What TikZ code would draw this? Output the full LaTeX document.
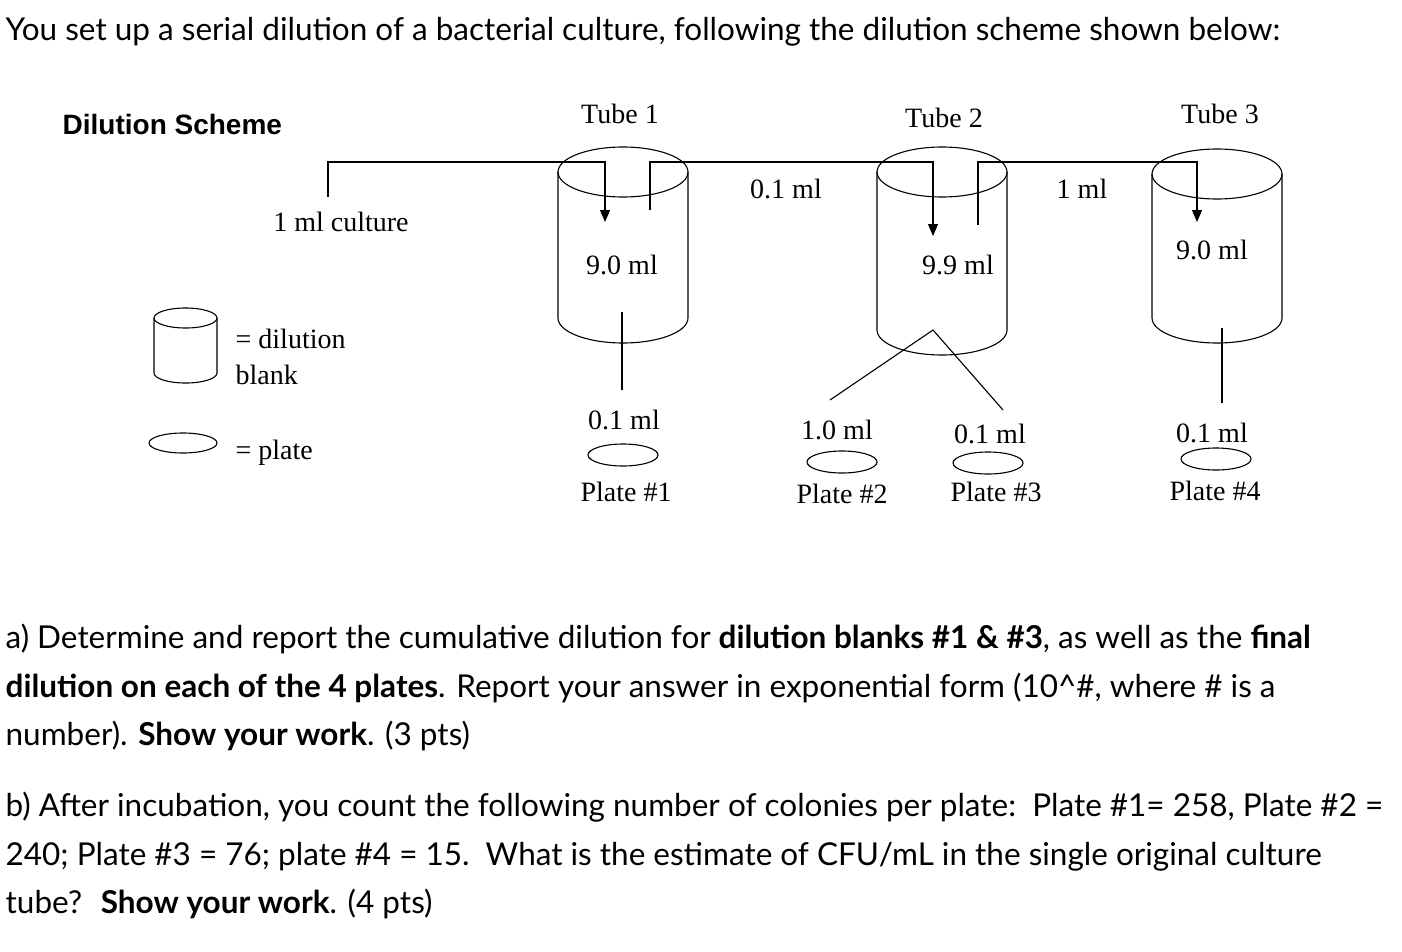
\documentclass[tikz,border=0pt]{standalone}
\usepackage{fontspec}
\setmainfont{Lato}
\newfontfamily\tnr{Liberation Serif}
\newfontfamily\ari{Liberation Sans}
\usetikzlibrary{arrows.meta}
\begin{document}
\begin{tikzpicture}[x=1pt,y=-1pt,line width=1.3pt,
  lbl/.style={font=\tnr\fontsize{28}{32}\selectfont,inner sep=0pt},
  txt/.style={font=\fontsize{31.5}{36}\selectfont,anchor=base west,inner sep=0pt},
  flow/.style={-{Triangle[length=12pt,width=10pt]}},
  thin/.style={line width=1.1pt}]
\useasboundingbox (0,0) rectangle (1402,952);
\fill[white] (0,0) rectangle (1402,952);
% header text
\node[txt] (q) at (5,41) {You set up a serial dilution of a bacterial culture, following the dilution scheme shown below:};
\node[font=\ari\bfseries\fontsize{28}{32}\selectfont,anchor=west,inner sep=0pt] (ds) at (62,124) {Dilution Scheme};
% tubes
\newcommand{\tubeshape}[4]{% cx, top, bottom, rx
  \draw[thin] (#1-#4,#2) arc[start angle=180,end angle=540,x radius=#4,y radius=25];
  \draw[thin] (#1-#4,#2) -- (#1-#4,#3) arc[start angle=180,end angle=0,x radius=#4,y radius=25] -- (#1+#4,#2);}
\tubeshape{623}{172}{318}{65}
\tubeshape{942}{172}{330}{65}
\tubeshape{1217}{174}{318}{65}
\node[lbl] (t1) at (620,114) {Tube 1};
\node[lbl] (t2) at (944,118) {Tube 2};
\node[lbl] (t3) at (1220,114) {Tube 3};
\node[lbl] (v1) at (622,265) {9.0 ml};
\node[lbl] (v2) at (958,265) {9.9 ml};
\node[lbl] (v3) at (1212,250) {9.0 ml};
\node[lbl] (cul) at (341,222) {1 ml culture};
\node[lbl] (m1) at (786,189) {0.1 ml};
\node[lbl] (m2) at (1082,189) {1 ml};
% transfer lines
\coordinate (s0) at (328,197);
\coordinate (a1) at (605,222);
\coordinate (s1) at (650,210);
\coordinate (a2) at (933,236);
\coordinate (s2) at (978,225);
\coordinate (a3) at (1197,222);
\draw[thin,flow] (s0) |- (605,162) -- (a1);
\draw[thin,flow] (s1) |- (933,162) -- (a2);
\draw[thin,flow] (s2) |- (1197,162) -- (a3);
% plates
\node[lbl] (p1v) at (624,420) {0.1 ml};
\node[lbl] (p2v) at (837,430) {1.0 ml};
\node[lbl] (p3v) at (990,434) {0.1 ml};
\node[lbl] (p4v) at (1212,433) {0.1 ml};
\draw[thin] (623,455) ellipse [x radius=35,y radius=11];
\draw[thin] (842,462) ellipse [x radius=35,y radius=11];
\draw[thin] (988,463) ellipse [x radius=35,y radius=11];
\draw[thin] (1216,459) ellipse [x radius=35,y radius=11];
\node[lbl] (p1) at (626,492) {Plate \#1};
\node[lbl] (p2) at (842,494) {Plate \#2};
\node[lbl] (p3) at (996,492) {Plate \#3};
\node[lbl] (p4) at (1215,491) {Plate \#4};
\coordinate (b1) at (622,312); \coordinate (e1) at (622,390);
\coordinate (ap) at (933,330); \coordinate (e2) at (830,400); \coordinate (e3) at (1003,410);
\coordinate (b3) at (1222,328); \coordinate (e4) at (1222,403);
\draw[thin] (b1) -- (e1);
\draw[thin] (e2) -- (ap) -- (e3);
\draw[thin] (b3) -- (e4);
% legend
\draw[thin] (154,318) arc[start angle=180,end angle=540,x radius=31.5,y radius=10];
\draw[thin] (154,318) -- (154,373) arc[start angle=180,end angle=0,x radius=31.5,y radius=10] -- (217,318);
\draw[thin] (183,443) ellipse [x radius=34,y radius=10];
\node[lbl,anchor=west] (ld) at (235,339) {= dilution};
\node[lbl,anchor=west] (lb) at (235,375) {blank};
\node[lbl,anchor=west] (lp) at (235,453) {= plate};
% questions
\node[txt] (a1t) at (5,648) {a) Determine and report the cumulative dilution for \textbf{dilution blanks \#1 \& \#3}, as well as the \textbf{final}};
\node[txt] (a2t) at (5,697) {\textbf{dilution on each of the 4 plates}. Report your answer in exponential form (10\^{}\#, where \# is a};
\node[txt] (a3t) at (5,745) {number). \textbf{Show your work}. (3 pts)};
\node[txt] (b1t) at (5,816) {b) After incubation, you count the following number of colonies per plate:\ \ Plate \#1= 258, Plate \#2 =};
\node[txt] (b2t) at (5,865) {240; Plate \#3 = 76; plate \#4 = 15.\ \ What is the estimate of CFU/mL in the single original culture};
\node[txt] (b3t) at (5,913) {tube? \ \textbf{Show your work}. (4 pts)};
\end{tikzpicture}
\end{document}
